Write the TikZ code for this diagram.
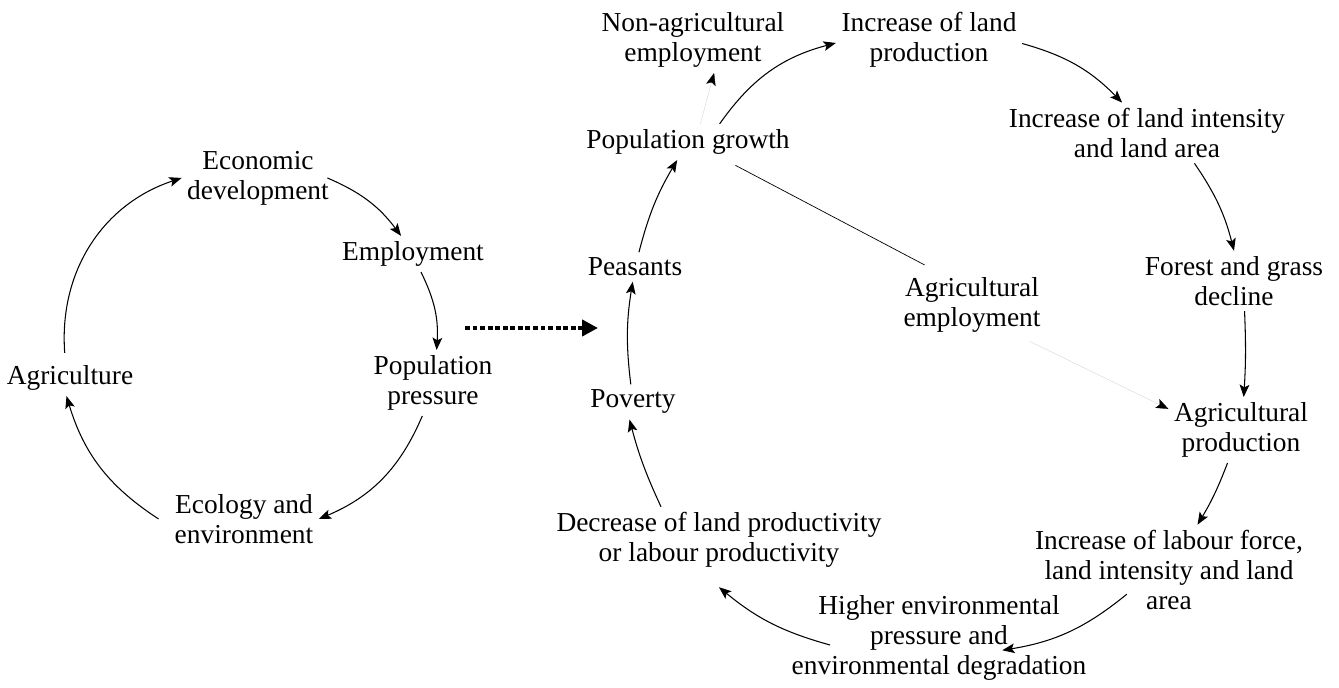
\documentclass[tikz,border=0pt]{standalone}
\usepackage{fontspec}
\setmainfont{Liberation Serif}
\usetikzlibrary{arrows.meta}
\tikzset{
  lbl/.style={align=center, inner sep=3pt, yshift=-1.7pt, font=\fontsize{15.6}{17}\selectfont},
  arr/.style={semithick, -{Stealth[length=7pt,width=5.5pt,inset=1.5pt]}},
  faint/.style={very thin, gray!35, -{Stealth[length=7pt,width=5.5pt,inset=1.5pt,black]}},
  bigdots/.style={line width=2.3pt, dash pattern=on 2.8pt off 1.5pt, -{Triangle[length=9pt,width=9pt]}}
}
\begin{document}
\begin{tikzpicture}[x=0.02cm,y=0.02cm]
\useasboundingbox (0,0) rectangle (1339,-688);
\node[lbl] (econ) at (258,-175) {Economic\\development};
\node[lbl] (empl) at (413,-251) {Employment};
\node[lbl] (press) at (433,-380) {Population\\pressure};
\node[lbl] (eco) at (244,-516) {Ecology and\\environment};
\node[lbl] (agri) at (70,-375) {Agriculture};
\draw[arr] ([xshift=-3pt,yshift=4pt]agri.north) to[bend left=38] (econ.west);
\draw[arr] ([xshift=-4pt]econ.east) to[bend left=15] (empl);
\draw[arr] (empl) to[bend left=15] (press);
\draw[arr] (press) to[bend left=22] (eco.east);
\draw[arr] ([xshift=-6pt]eco.west) to[bend left=20] ([xshift=-2pt]agri.south);
\coordinate (dotA) at (465,-328);
\coordinate (dotB) at (598,-328);
\draw[bigdots] (dotA) -- (dotB);
\node[lbl] (nonag) at (693,-37) {Non-agricultural\\employment};
\node[lbl] (incprod) at (929,-37) {Increase of land\\production};
\node[lbl] (growth) at (688,-139) {Population growth};
\node[lbl] (peas) at (635,-264) {Peasants};
\node[lbl] (pov) at (633,-399) {Poverty};
\node[lbl] (intens) at (1147,-130) {Increase of land intensity\\and land area};
\node[lbl] (forest) at (1234,-278) {Forest and grass\\decline};
\node[lbl] (agemp) at (972,-302) {Agricultural\\employment};
\node[lbl] (agprod) at (1241,-427) {Agricultural\\production};
\node[lbl] (labour) at (1169,-567) {Increase of labour force,\\land intensity and land\\area};
\node[lbl] (higher) at (939,-635) {Higher environmental\\pressure and\\environmental degradation};
\node[lbl] (decr) at (719,-537) {Decrease of land productivity\\or labour productivity};
\draw[arr] (pov) to[bend left=8] (peas);
\draw[arr] (peas) to[bend left=8] (growth);
\draw[faint] ([xshift=7pt]growth.north) -- ([xshift=12pt]nonag.south);
\draw[arr] ([xshift=18pt]growth.north) to[bend left=20] (incprod);
\draw[thin] ([xshift=27pt,yshift=-3pt]growth.south) -- ([xshift=-27pt,yshift=4pt]agemp.north);
\draw[faint] ([xshift=33pt,yshift=-2pt]agemp.south) -- ([yshift=12pt]agprod.west);
\draw[arr] ([yshift=-2pt]incprod.east) to[bend left=15] (intens);
\draw[arr] ([xshift=27pt]intens.south) to[bend left=10] (forest.north);
\draw[arr] ([xshift=6pt]forest.south) to[bend left=3] (agprod);
\draw[arr] (agprod) to[bend left=5] (labour);
\draw[arr] ([xshift=-24pt,yshift=12pt]labour.south) to[bend left=15] ([xshift=36pt,yshift=-7pt]higher.center);
\draw[arr] ([xshift=-62pt,yshift=-4pt]higher.center) to[bend left=12] ([yshift=-8pt]decr.south);
\draw[arr] ([xshift=-33pt]decr.north) to[bend left=5] ([xshift=-2pt]pov.south);
\end{tikzpicture}
\end{document}
